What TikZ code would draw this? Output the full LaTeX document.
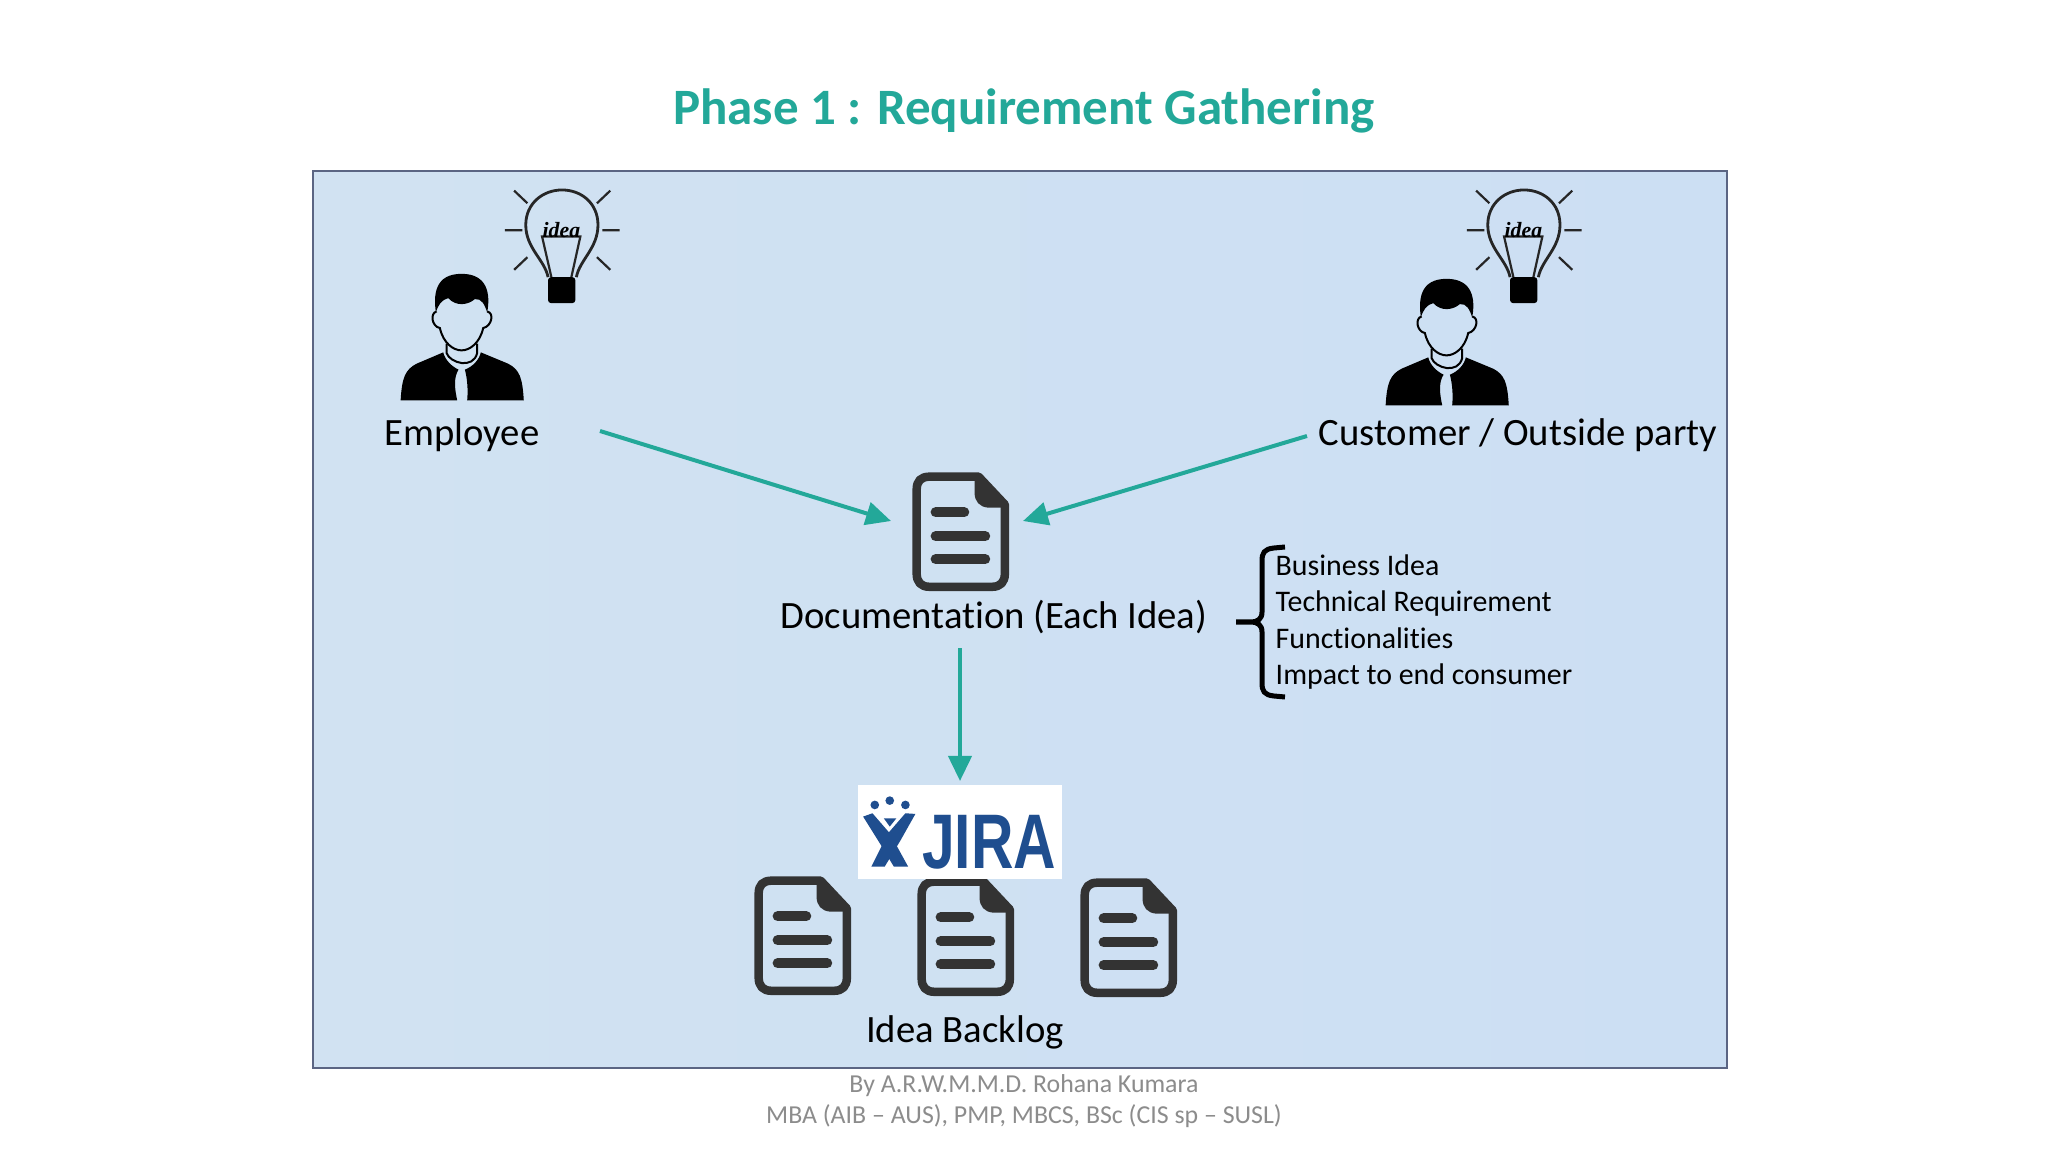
\documentclass[tikz,border=0pt]{standalone}
\usepackage{fontspec}
\setmainfont[Ligatures=NoCommon]{Carlito}
\newfontfamily\ideafont{Liberation Serif}
\newfontfamily\jirafont{Liberation Sans}
\usetikzlibrary{arrows.meta}
\definecolor{teal1}{HTML}{23A899}
\definecolor{panelL}{HTML}{D1E2F2}
\definecolor{panelR}{HTML}{CCDFF3}
\definecolor{edgeC}{HTML}{5B6583}
\definecolor{iconC}{HTML}{333333}
\definecolor{footC}{HTML}{8C8C8C}
\definecolor{jiraC}{HTML}{1F4E8F}
\tikzset{
  flow/.style={draw=teal1,line width=0.04cm,-{Triangle[length=0.25cm,width=0.23cm]}},
  bigtext/.style={font=\fontsize{11}{13}\selectfont,anchor=base,text=black,inner sep=0pt},
  listtext/.style={font=\fontsize{8.5}{10}\selectfont,anchor=base west,text=black,inner sep=0pt},
  foot/.style={font=\fontsize{7.35}{9}\selectfont,anchor=base,text=footC,inner sep=0pt},
  zoomed/.style={x=0.003333cm,y=-0.003333cm},
}
\newcommand{\docicon}[2]{%
  \begin{scope}[shift={(#1,#2)},zoomed]
    \draw[iconC,line width=0.085cm,line join=round]
      (197,11) -- (50,11) .. controls (24,11) and (11,24) .. (11,50)
      -- (11,302) .. controls (11,328) and (24,342) .. (50,342)
      -- (237,342) .. controls (263,342) and (276,328) .. (276,302)
      -- (276,95) -- cycle;
    \fill[iconC] (185,4) -- (284,95) -- (284,104) -- (225,104) .. controls (200,102) and (185,85) .. (185,60) -- cycle;
    \draw[iconC,line width=0.1cm,line cap=round] (68,118) -- (154,118);
    \draw[iconC,line width=0.1cm,line cap=round] (68,190) -- (217,190);
    \draw[iconC,line width=0.1cm,line cap=round] (68,259) -- (217,259);
  \end{scope}}
\newcommand{\personicon}[2]{%
  \begin{scope}[shift={(#1,#2)},zoomed]
    \fill[black] (168,428) .. controls (160,375) and (165,312) .. (245,312)
      .. controls (325,312) and (332,375) .. (322,428)
      .. controls (315,405) and (305,385) .. (285,388)
      .. controls (265,405) and (230,412) .. (205,385)
      .. controls (185,390) and (175,405) .. (168,428) -- cycle;
    \draw[black,line width=0.02cm] (170,425) .. controls (150,430) and (155,470) .. (180,475)
      .. controls (190,520) and (220,542) .. (245,542)
      .. controls (270,542) and (300,520) .. (310,475)
      .. controls (335,470) and (345,430) .. (322,425);
    \draw[black,line width=0.02cm] (200,522) -- (200,550) .. controls (210,580) and (280,600) .. (292,550) -- (292,522);
    \fill[black] (62,692) .. controls (66,625) and (75,600) .. (110,582) -- (190,548)
      .. controls (195,570) and (215,590) .. (236,600) .. controls (220,625) and (225,660) .. (232,692) -- cycle;
    \fill[black] (262,692) .. controls (265,660) and (262,625) .. (255,600)
      .. controls (280,590) and (298,570) .. (303,548) -- (385,582)
      .. controls (420,600) and (428,625) .. (432,692) -- cycle;
  \end{scope}}
\newcommand{\bulbicon}[2]{%
  \begin{scope}[shift={(#1,#2)},zoomed]
    \draw[black!85,line width=0.028cm] (505,322) .. controls (495,270) and (438,235) .. (438,165)
      .. controls (438,100) and (490,60) .. (547,60)
      .. controls (605,60) and (655,100) .. (655,165)
      .. controls (655,235) and (600,270) .. (590,322);
    \draw[black!85,line width=0.022cm] (515,322) -- (487,200) -- (602,200) -- (575,322);
    \fill[black,rounded corners=0.03cm] (505,322) rectangle (587,400);
    \draw[black!85,line width=0.022cm] (375,181) -- (428,181) (668,181) -- (720,181)
      (403,62) -- (443,100) (692,62) -- (652,100)
      (403,300) -- (443,262) (692,300) -- (652,262);
    \node[inner sep=0pt,anchor=base,font=\ideafont\itshape\bfseries\fontsize{6.2}{7}\selectfont] at (545,203) {idea};
  \end{scope}}
\begin{document}
\begin{tikzpicture}[x=0.01cm,y=-0.01cm]
\useasboundingbox (0,0) rectangle (2048,1152);
\fill[white] (0,0) rectangle (2048,1152);
\node[anchor=base,inner sep=0pt,text=teal1,font=\fontsize{14.5}{17}\selectfont\bfseries] (title) at (1024,125) {Phase 1 : Requirement Gathering};
\shade[left color=panelL,right color=panelR] (313,171) rectangle (1727,1068);
\draw[edgeC,line width=0.015cm] (313,171) rectangle (1727,1068);

\bulbicon{380}{170}
\personicon{380}{170}
\bulbicon{1342}{170}
\personicon{1365}{175}

\docicon{913}{473}
\docicon{755}{877}
\docicon{918}{878}
\docicon{1081}{879}

\node[bigtext] (emp) at (462,446) {Employee};
\node[bigtext] (cust) at (1518,446) {Customer / Outside party};
\node[bigtext] (docu) at (994,628) {Documentation (Each Idea)};
\node[bigtext] (back) at (965,1042) {Idea Backlog};

\node[listtext] (l1) at (1275,576) {Business Idea};
\node[listtext] (l2) at (1275,612) {Technical Requirement};
\node[listtext] (l3) at (1275,648) {Functionalities};
\node[listtext] (l4) at (1275,684) {Impact to end consumer};

\draw[black,line width=0.05cm] (1285,547) -- (1274,548) .. controls (1264,549) and (1262,553) .. (1262,561)
  -- (1262,612) .. controls (1262,619) and (1258,622) .. (1250,622) -- (1236,622)
  (1250,622) .. controls (1258,622) and (1262,625) .. (1262,632)
  -- (1262,683) .. controls (1262,691) and (1264,695) .. (1274,696) -- (1285,697);

\coordinate (a1) at (600,431);
\coordinate (a2) at (891,521);
\coordinate (b1) at (1307,436);
\coordinate (b2) at (1023,521);
\coordinate (c1) at (960,648);
\coordinate (c2) at (960,781);
\draw[flow] (a1) -- (a2);
\draw[flow] (b1) -- (b2);
\draw[flow] (c1) -- (c2);

\fill[white] (858,785) rectangle (1062,879);
\begin{scope}[shift={(740,770)},zoomed]
  \fill[jiraC] (405,105) circle (13) (450,92) circle (13) (497,105) circle (13);
  \fill[jiraC] (432,145) -- (470,145) -- (450,170) -- cycle;
  \fill[jiraC] (370,140) -- (398,130) -- (450,190) -- (505,290) -- (462,290) -- (420,220) -- cycle;
  \fill[jiraC] (527,132) -- (497,130) -- (445,190) -- (395,290) -- (435,290) -- (482,212) -- cycle;
\end{scope}
\node[inner sep=0pt,text=jiraC,anchor=base,font=\jirafont\bfseries\fontsize{22}{25}\selectfont,xscale=0.76,transform shape] (jira) at (989,868) {JIRA};

\node[foot] (f1) at (1024,1092) {By A.R.W.M.M.D. Rohana Kumara};
\node[foot] (f2) at (1024,1123) {MBA (AIB – AUS), PMP, MBCS, BSc (CIS sp – SUSL)};
\end{tikzpicture}
\end{document}
